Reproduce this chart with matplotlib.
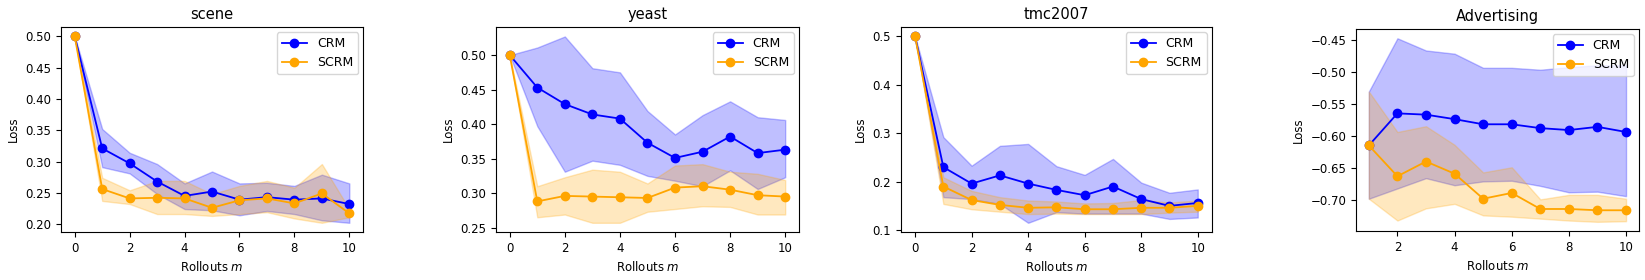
import numpy as np
import matplotlib
matplotlib.use("Agg")
import matplotlib.pyplot as plt

# === data ===
m_full = list(range(0, 11))
m_adv = list(range(1, 11))

scene_crm = [0.500, 0.321, 0.297, 0.268, 0.245, 0.252, 0.239, 0.243, 0.239, 0.241, 0.232]
scene_crm_hi = [0.500, 0.352, 0.314, 0.296, 0.265, 0.284, 0.265, 0.266, 0.261, 0.279, 0.265]
scene_crm_lo = [0.500, 0.291, 0.281, 0.248, 0.224, 0.222, 0.214, 0.221, 0.216, 0.206, 0.202]
scene_scrm = [0.500, 0.256, 0.241, 0.242, 0.241, 0.226, 0.238, 0.241, 0.233, 0.249, 0.217]
scene_scrm_hi = [0.500, 0.274, 0.254, 0.269, 0.269, 0.248, 0.261, 0.269, 0.258, 0.296, 0.224]
scene_scrm_lo = [0.500, 0.237, 0.232, 0.216, 0.216, 0.213, 0.216, 0.219, 0.209, 0.202, 0.211]

yeast_crm = [0.500, 0.453, 0.429, 0.414, 0.408, 0.373, 0.351, 0.360, 0.382, 0.358, 0.363]
yeast_crm_hi = [0.500, 0.511, 0.527, 0.481, 0.475, 0.419, 0.385, 0.413, 0.433, 0.410, 0.406]
yeast_crm_lo = [0.500, 0.397, 0.331, 0.347, 0.341, 0.325, 0.318, 0.310, 0.333, 0.306, 0.323]
yeast_scrm = [0.500, 0.288, 0.296, 0.295, 0.294, 0.293, 0.308, 0.310, 0.305, 0.297, 0.295]
yeast_scrm_hi = [0.500, 0.310, 0.323, 0.334, 0.331, 0.314, 0.340, 0.342, 0.331, 0.328, 0.319]
yeast_scrm_lo = [0.500, 0.265, 0.269, 0.257, 0.257, 0.273, 0.277, 0.281, 0.280, 0.269, 0.269]

tmc_crm = [0.500, 0.230, 0.196, 0.213, 0.196, 0.183, 0.172, 0.190, 0.164, 0.150, 0.156]
tmc_crm_hi = [0.500, 0.292, 0.233, 0.274, 0.278, 0.232, 0.214, 0.247, 0.198, 0.177, 0.184]
tmc_crm_lo = [0.500, 0.168, 0.164, 0.154, 0.115, 0.137, 0.134, 0.134, 0.134, 0.123, 0.126]
tmc_scrm = [0.500, 0.190, 0.162, 0.152, 0.146, 0.147, 0.143, 0.143, 0.146, 0.146, 0.150]
tmc_scrm_hi = [0.500, 0.209, 0.181, 0.168, 0.161, 0.159, 0.155, 0.156, 0.162, 0.157, 0.161]
tmc_scrm_lo = [0.500, 0.154, 0.143, 0.138, 0.133, 0.134, 0.133, 0.133, 0.133, 0.136, 0.138]

adv_crm = [-0.615, -0.565, -0.567, -0.574, -0.582, -0.582, -0.588, -0.591, -0.586, -0.594]
adv_crm_hi = [-0.531, -0.448, -0.467, -0.472, -0.494, -0.494, -0.497, -0.493, -0.490, -0.490]
adv_crm_lo = [-0.698, -0.682, -0.666, -0.677, -0.671, -0.670, -0.678, -0.688, -0.687, -0.694]
adv_scrm = [-0.615, -0.663, -0.640, -0.659, -0.698, -0.689, -0.714, -0.714, -0.716, -0.716]
adv_scrm_hi = [-0.531, -0.594, -0.585, -0.614, -0.657, -0.649, -0.699, -0.692, -0.692, -0.698]
adv_scrm_lo = [-0.698, -0.732, -0.713, -0.706, -0.724, -0.726, -0.729, -0.732, -0.734, -0.733]

panels = [
    ("scene", m_full, scene_crm, scene_crm_lo, scene_crm_hi, scene_scrm, scene_scrm_lo, scene_scrm_hi),
    ("yeast", m_full, yeast_crm, yeast_crm_lo, yeast_crm_hi, yeast_scrm, yeast_scrm_lo, yeast_scrm_hi),
    ("tmc2007", m_full, tmc_crm, tmc_crm_lo, tmc_crm_hi, tmc_scrm, tmc_scrm_lo, tmc_scrm_hi),
    ("Advertising", m_adv, adv_crm, adv_crm_lo, adv_crm_hi, adv_scrm, adv_scrm_lo, adv_scrm_hi),
]

# axes boxes in figure fractions (left, bottom, width, height)
boxes = [
    [0.0371, 0.171, 0.1836, 0.732],
    [0.3015, 0.171, 0.1842, 0.732],
    [0.5477, 0.171, 0.1890, 0.732],
    [0.8243, 0.175, 0.1720, 0.721],
]

fig = plt.figure(figsize=(16.45, 2.8), dpi=100)

for (title, m, crm, crm_lo, crm_hi, scrm, scrm_lo, scrm_hi), box in zip(panels, boxes):
    ax = fig.add_axes(box)
    ax.plot(m, crm, "-o", color="blue", label="CRM", markersize=6, linewidth=1.3)
    ax.fill_between(m, crm_lo, crm_hi, color="blue", alpha=0.25)
    ax.plot(m, scrm, "-o", color="orange", label="SCRM", markersize=6, linewidth=1.3)
    ax.fill_between(m, scrm_lo, scrm_hi, color="orange", alpha=0.25)
    ax.set_title(title, fontsize=10.5)
    ax.set_xlabel("Rollouts $m$", fontsize=8.5)
    ax.set_ylabel("Loss", fontsize=8.5)
    ax.tick_params(labelsize=8.5)
    ax.legend(loc="upper right", fontsize=9, borderaxespad=0.4)

fig.savefig("out.png", dpi=100)
